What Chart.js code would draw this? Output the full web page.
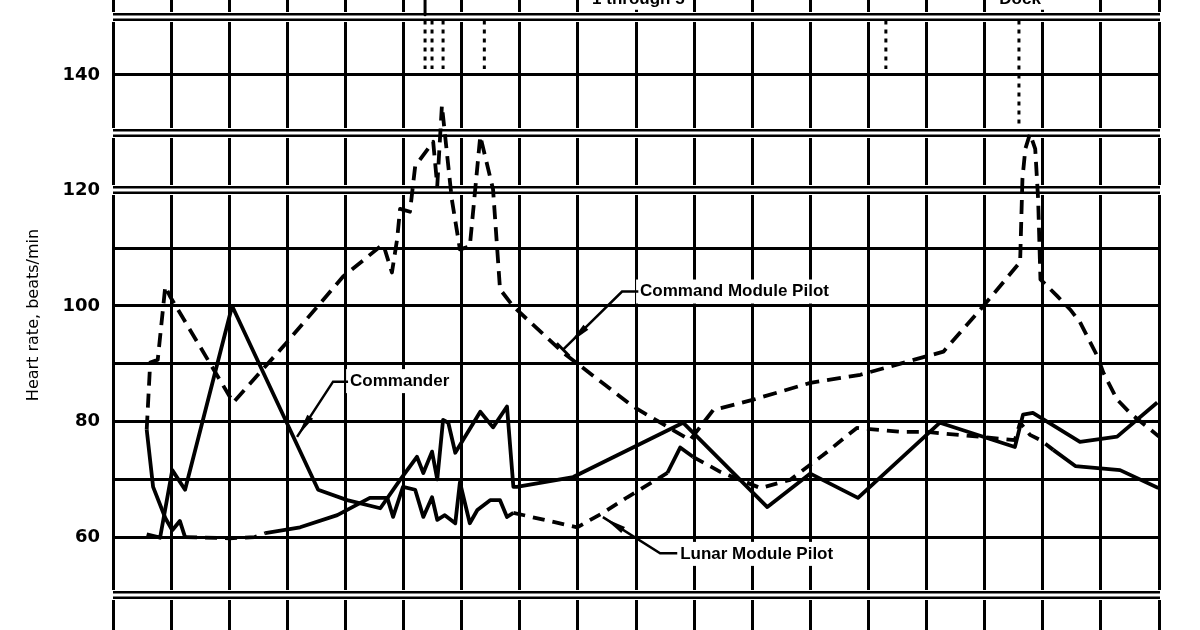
<!DOCTYPE html>
<html lang="en">
<head>
<meta charset="UTF-8">
<title>Heart rate, beats/min</title>
<script src="https://cdn.jsdelivr.net/npm/chart.js@4.4.1/dist/chart.umd.min.js"></script>
<style>
    html, body { margin: 0; padding: 0; background: #fff; }
    #wrap { width: 1200px; height: 630px; }
</style>
</head>
<body>
<div id="wrap"><canvas id="hrChart" width="1200" height="630"></canvas></div>
<script>
// x is measured in grid divisions (the time labels are cut off in the original)
const cdrX  = [0.58, 0.81, 1.02, 1.24, 2.05, 3.53, 4.03, 4.60, 4.94, 5.23, 5.34, 5.49, 5.58, 5.68, 5.77, 5.89, 6.32, 6.54, 6.78, 6.89, 6.95, 7.92, 9.81, 11.26, 12.00, 12.82, 14.23, 15.52, 15.66, 15.83, 16.64, 17.28, 17.97];
const cdrHR = [60.5, 59.9, 71.6, 68.2, 100.0, 68.2, 66.4, 65.0, 69.9, 73.9, 71.1, 74.8, 70.0, 80.3, 79.8, 74.6, 81.7, 79.0, 82.6, 68.7, 68.7, 70.4, 79.8, 65.2, 71.0, 66.8, 79.8, 75.6, 81.2, 81.5, 76.5, 77.4, 83.3];

const cmpX  = [0.58, 0.64, 0.77, 0.90, 0.98, 2.07, 2.99, 3.96, 4.65, 4.80, 4.89, 4.94, 5.11, 5.20, 5.51, 5.58, 5.66, 5.83, 5.97, 6.14, 6.32, 6.54, 6.66, 6.89, 7.75, 8.95, 9.93, 10.33, 11.02, 12.00, 12.86, 14.29, 14.97, 15.61, 15.65, 15.70, 15.78, 15.87, 15.92, 15.96, 16.25, 16.47, 16.64, 16.94, 17.04, 17.28, 17.50, 18.00];
const cmpHR = [78.6, 90.2, 90.7, 103.4, 101.7, 83.3, 93.7, 105.1, 110.7, 105.8, 111.6, 116.8, 116.3, 124.2, 128.4, 120.8, 134.7, 118.5, 109.8, 110.3, 129.4, 120.2, 102.9, 99.9, 91.9, 82.6, 76.8, 82.0, 83.8, 86.7, 88.1, 92.1, 99.9, 107.6, 122.0, 127.2, 129.8, 127.2, 118.5, 104.6, 101.7, 99.4, 97.2, 91.3, 88.5, 83.8, 81.5, 77.4];

const lmpX  = [0.58, 0.69, 0.90, 1.02, 1.15, 1.24, 2.01, 2.44, 2.62, 3.22, 3.86, 4.42, 4.72, 4.82, 4.99, 5.20, 5.34, 5.49, 5.58, 5.71, 5.89, 5.97, 6.14, 6.27, 6.49, 6.66, 6.78, 6.89, 7.99, 8.43, 8.85, 9.54, 9.76, 9.98, 10.45, 11.14, 11.65, 12.22, 12.80, 13.60, 14.01, 15.52, 15.61, 15.78, 15.96, 16.18, 16.56, 17.33, 17.99];
const lmpHR = [78.6, 68.7, 63.3, 61.2, 62.8, 60.0, 59.8, 60.0, 60.7, 61.7, 63.8, 66.8, 66.8, 63.5, 68.7, 68.2, 63.5, 66.9, 63.0, 63.8, 62.4, 69.5, 62.4, 64.7, 66.4, 66.4, 63.5, 64.2, 61.7, 64.2, 66.9, 71.1, 75.5, 73.9, 71.3, 68.5, 69.9, 74.2, 78.9, 78.2, 78.2, 76.8, 79.8, 77.7, 76.8, 75.1, 72.3, 71.6, 68.5];

// event markers near the top (dotted verticals)
const eventX      = [5.37, 5.49, 5.68, 6.39, 13.30, 15.59];
const eventTopHR  = [149.4, 149.4, 149.4, 149.4, 149.4, 149.4];
const eventLowHR  = [141.0, 141.0, 141.0, 141.0, 141.0, 131.5];
// solid tick above the top rule for the first event
const tickX  = [5.37, 5.37];
const tickHR = [152.95, 150.4];

const yLabels = [60, 80, 100, 120, 140];
const yGrid   = [50, 60, 70, 80, 90, 100, 110, 120, 130, 140, 150];
const xGrid   = [0, 1, 2, 3, 4, 5, 6, 7, 8, 9, 10, 11, 12, 13, 14, 15, 16, 17, 18];
const doubleLines = [50, 120, 130, 150];

const lmpDashed = [[1.24, 2.62], [6.89, 9.54], [9.98, 16.0]];

const pts = (xs, ys) => xs.map((v, i) => ({ x: v, y: ys[i] }));

// text notes: [text, x, hr]
const topNotes = [['1 through 5', 9.04, 152.3], ['Dock', 15.61, 152.3]];
const callouts = [
    { text: 'Commander', at: [4.08, 87.0], path: [[4.045, 86.9], [3.787, 86.9], [3.167, 77.35]], bar: false },
    { text: 'Command Module Pilot', at: [9.07, 102.5], path: [[9.04, 102.5], [8.76, 102.5], [7.745, 92.45]], bar: true },
    { text: 'Lunar Module Pilot', at: [9.76, 57.1], path: [[9.71, 57.2], [9.415, 57.2], [8.43, 63.47]], bar: false }
];

const paperPlugin = {
    id: 'paper',
    beforeDraw(chart) {
        const ctx = chart.ctx;
        ctx.save();
        ctx.fillStyle = '#fff';
        ctx.fillRect(0, 0, chart.width, chart.height);
        ctx.restore();
    },
    beforeDatasetsDraw(chart) {
        const { ctx, chartArea: a, scales: { x, y } } = chart;
        ctx.save();
        doubleLines.forEach(v => {
            const py = Math.round(y.getPixelForValue(v));
            ctx.fillStyle = '#fff';
            ctx.fillRect(a.left - 2, py - 5, a.right - a.left + 4, 10);
            ctx.fillStyle = '#000';
            ctx.fillRect(a.left, py - 4, a.right - a.left + 1, 2.5);
            ctx.fillRect(a.left, py + 1.5, a.right - a.left + 1, 2.5);
        });
        // labels sit on a blank patch of paper, the grid is broken around them
        ctx.font = 'bold 17px "Liberation Sans"';
        ctx.fillStyle = '#fff';
        callouts.forEach(c => {
            const w = ctx.measureText(c.text).width;
            const px = x.getPixelForValue(c.at[0]), py = y.getPixelForValue(c.at[1]);
            ctx.fillRect(px - 4, py - 12, w + 8, 24);
        });
        topNotes.forEach(([t, vx, vy]) => {
            const w = ctx.measureText(t).width;
            const px = x.getPixelForValue(vx), py = y.getPixelForValue(vy);
            ctx.fillRect(px - w / 2 - 5, 0, w + 10, py + 6);
        });
        ctx.restore();
    },
    afterDatasetsDraw(chart) {
        const { ctx, scales: { x, y } } = chart;
        ctx.save();
        ctx.fillStyle = '#000';
        ctx.strokeStyle = '#000';
        ctx.font = 'bold 17px "Liberation Sans"';

        ctx.textAlign = 'center';
        ctx.textBaseline = 'alphabetic';
        topNotes.forEach(([t, vx, vy]) => ctx.fillText(t, x.getPixelForValue(vx), y.getPixelForValue(vy)));

        ctx.textAlign = 'left';
        ctx.textBaseline = 'middle';
        callouts.forEach(c => {
            ctx.fillText(c.text, x.getPixelForValue(c.at[0]), y.getPixelForValue(c.at[1]));
            const p = c.path.map(([vx, vy]) => [x.getPixelForValue(vx), y.getPixelForValue(vy)]);
            ctx.lineWidth = 2.5;
            ctx.beginPath();
            p.forEach(([px, py], i) => i ? ctx.lineTo(px, py) : ctx.moveTo(px, py));
            ctx.stroke();
            // wedge arrow at the end
            const [x1, y1] = p[p.length - 2], [x2, y2] = p[p.length - 1];
            const ang = Math.atan2(y2 - y1, x2 - x1);
            const tip = c.bar ? 10 : 2;
            const tx = x2 - Math.cos(ang) * tip, ty = y2 - Math.sin(ang) * tip;
            ctx.beginPath();
            ctx.moveTo(tx, ty);
            ctx.lineTo(tx - Math.cos(ang) * 22 + Math.sin(ang) * 3.5, ty - Math.sin(ang) * 22 - Math.cos(ang) * 3.5);
            ctx.lineTo(tx - Math.cos(ang) * 22 - Math.sin(ang) * 3.5, ty - Math.sin(ang) * 22 + Math.cos(ang) * 3.5);
            ctx.closePath();
            ctx.fill();
            if (c.bar) {
                ctx.lineWidth = 3;
                ctx.beginPath();
                ctx.moveTo(x2 + Math.sin(ang) * 9, y2 - Math.cos(ang) * 9);
                ctx.lineTo(x2 - Math.sin(ang) * 9, y2 + Math.cos(ang) * 9);
                ctx.stroke();
            }
        });
        ctx.restore();
    }
};

const lineStyle = { borderColor: '#000', borderWidth: 3.8, pointRadius: 0, tension: 0, fill: false, borderJoinStyle: 'round', borderCapStyle: 'butt' };

const eventSets = eventX.map((ex, i) => ({
    ...lineStyle,
    data: [{ x: ex, y: eventTopHR[i] }, { x: ex, y: eventLowHR[i] }],
    borderWidth: 3,
    borderDash: [4, 5]
}));

Chart.defaults.font.family = '"DejaVu Sans", sans-serif';

new Chart(document.getElementById('hrChart'), {
    type: 'line',
    data: {
        datasets: [
            { ...lineStyle, label: 'Commander', data: pts(cdrX, cdrHR) },
            { ...lineStyle, label: 'Command Module Pilot', data: pts(cmpX, cmpHR), borderDash: [14, 8] },
            {
                ...lineStyle, label: 'Lunar Module Pilot', data: pts(lmpX, lmpHR),
                segment: {
                    borderDash: ctx => {
                        const sx = ctx.p0.parsed.x;
                        return lmpDashed.some(([a, b]) => sx >= a && sx < b) ? [12, 8] : undefined;
                    }
                }
            },
            ...eventSets,
            { ...lineStyle, data: pts(tickX, tickHR), borderWidth: 3 }
        ]
    },
    options: {
        responsive: false,
        animation: false,
        devicePixelRatio: 1,
        layout: { padding: { left: 0, top: 0, right: 41, bottom: 0 } },
        plugins: { legend: { display: false }, tooltip: { enabled: false } },
        scales: {
            x: {
                type: 'linear', min: 0, max: 18,
                afterBuildTicks: s => { s.ticks = xGrid.map(v => ({ value: v })); },
                afterFit: s => { s.height = 0; s.paddingLeft = 0; s.paddingRight = 0; },
                border: { display: false },
                grid: { color: '#000', lineWidth: 3, drawTicks: false },
                ticks: { display: false }
            },
            y: {
                min: 43.93, max: 152.95,
                afterBuildTicks: s => { s.ticks = yGrid.map(v => ({ value: v })); },
                afterFit: s => { s.width = 113; s.paddingTop = 0; s.paddingBottom = 0; },
                border: { display: false },
                grid: { color: '#000', lineWidth: 3, drawTicks: false },
                ticks: {
                    padding: 13, color: '#000',
                    font: { size: 18, weight: 'bold' },
                    callback: v => yLabels.includes(v) ? String(v) : ''
                },
                title: {
                    display: true, text: 'Heart rate, beats/min', color: '#000',
                    font: { size: 16 }, padding: { top: 24, bottom: 0 }
                }
            }
        }
    },
    plugins: [paperPlugin]
});
</script>
</body>
</html>
